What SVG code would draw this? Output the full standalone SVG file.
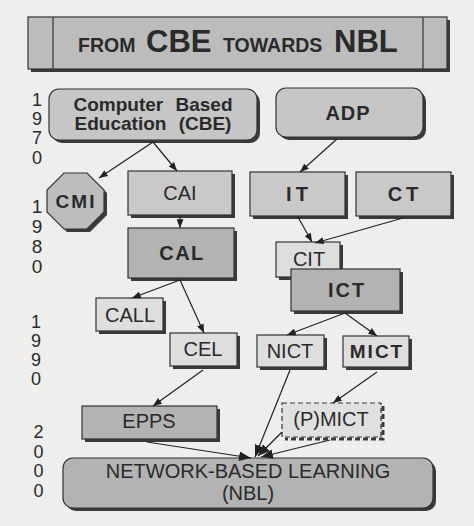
<svg xmlns="http://www.w3.org/2000/svg" width="474" height="526" viewBox="0 0 474 526">
<defs>
<marker id="ah" viewBox="0 0 10 8" refX="10" refY="4" markerWidth="9" markerHeight="7" markerUnits="userSpaceOnUse" orient="auto">
<path d="M0,0 L10,4 L0,8 z" fill="#222"/>
</marker>
<marker id="ahb" viewBox="0 0 10 8" refX="10" refY="4" markerWidth="12" markerHeight="10" markerUnits="userSpaceOnUse" orient="auto">
<path d="M0,0 L10,4 L0,8 z" fill="#222"/>
</marker>
</defs>
<style>
text{font-family:"Liberation Sans",Arial,sans-serif;fill:#2a2a2a}
.sh{fill:#3a3a3a}
.bx{stroke:#333;stroke-width:1.2}
.med{fill:#c9c9c9}
.drk{fill:#b3b3b3}
.lgt{fill:#dedede}
.b{font-weight:bold}
.t20{font-size:20px}
.yr{text-anchor:middle}
.c{text-anchor:middle}
.cn line{stroke:#222;stroke-width:1.2;marker-end:url(#ah)}
.cn line.nb{marker-end:url(#ahb)}
</style>
<rect width="474" height="526" fill="#eeeeec"/>

<g id="title">
<rect class="sh" x="31" y="20" width="419" height="52"/>
<rect class="bx" x="28" y="17" width="419" height="52" fill="#bcbcbc"/>
<line x1="53" y1="17" x2="53" y2="69" stroke="#333" stroke-width="1.2"/>
<line x1="423" y1="17" x2="423" y2="69" stroke="#333" stroke-width="1.2"/>
<text class="b" y="52"><tspan x="78" font-size="19.5">FROM</tspan><tspan x="146" font-size="31">CBE</tspan><tspan x="223" font-size="19.5">TOWARDS</tspan><tspan x="334" font-size="31">NBL</tspan></text>
</g>

<g id="years">
<g font-size="18"><text class="yr" x="37" y="106">1</text><text class="yr" x="37" y="125">9</text><text class="yr" x="37" y="144">7</text><text class="yr" x="37" y="164">0</text></g>
<g font-size="19"><text class="yr" x="37" y="213">1</text><text class="yr" x="37" y="233">9</text><text class="yr" x="37" y="253">8</text><text class="yr" x="37" y="273">0</text></g>
<g font-size="18"><text class="yr" x="36" y="328">1</text><text class="yr" x="36" y="347">9</text><text class="yr" x="36" y="366">9</text><text class="yr" x="36" y="385">0</text></g>
<g font-size="18"><text class="yr" x="38.5" y="438">2</text><text class="yr" x="38.5" y="458">0</text><text class="yr" x="38.5" y="477">0</text><text class="yr" x="38.5" y="497">0</text></g>
</g>

<g id="cbe">
<rect class="sh" x="52" y="92" width="208" height="51" rx="10"/>
<rect class="bx" x="49" y="89" width="208" height="51" rx="10" fill="#c6c6c6"/>
<text class="b c" x="153" y="111" font-size="19" word-spacing="7">Computer Based</text>
<text class="b c" x="153" y="130" font-size="19" word-spacing="7">Education (CBE)</text>
</g>

<g id="adp">
<rect class="sh" x="279" y="91" width="147" height="49" rx="10"/>
<rect class="bx" x="276" y="88" width="147" height="49" rx="10" fill="#c6c6c6"/>
<text class="b c t20" x="348" y="120" letter-spacing="1">ADP</text>
</g>

<g id="cmi">
<polygon class="sh" points="67,176 90,176 107,193 107,215 90,232 67,232 50,215 50,193"/>
<polygon class="bx" points="64,173 87,173 104,190 104,212 87,229 64,229 47,212 47,190" fill="#bdbdbd"/>
<text class="b c" x="76" y="208" font-size="19" letter-spacing="2">CMI</text>
</g>

<g id="cai">
<rect class="sh" x="131" y="174" width="104" height="44"/>
<rect class="bx med" x="128" y="171" width="104" height="44"/>
<text class="c t20" x="180" y="200">CAI</text>
</g>

<g id="it">
<rect class="sh" x="253" y="175" width="95" height="44"/>
<rect class="bx med" x="250" y="172" width="95" height="44"/>
<text class="b c t20" x="299" y="201" letter-spacing="4">IT</text>
</g>

<g id="ct">
<rect class="sh" x="359" y="175" width="95" height="44"/>
<rect class="bx med" x="356" y="172" width="95" height="44"/>
<text class="b c t20" x="405" y="201" letter-spacing="4">CT</text>
</g>

<g id="cal">
<rect class="sh" x="131" y="231" width="106" height="50"/>
<rect class="bx drk" x="128" y="228" width="106" height="50"/>
<text class="b c t20" x="182" y="260" letter-spacing="1.5">CAL</text>
</g>

<g id="cit">
<rect class="sh" x="279" y="245" width="64" height="35"/>
<rect class="bx lgt" x="276" y="242" width="64" height="35"/>
<text class="c t20" x="309" y="266">CIT</text>
</g>

<g id="ict">
<rect class="sh" x="294" y="272" width="109" height="42"/>
<rect class="bx drk" x="291" y="269" width="109" height="42"/>
<text class="b c t20" x="347" y="297" letter-spacing="2">ICT</text>
</g>

<g id="call">
<rect class="sh" x="99" y="301" width="67" height="33"/>
<rect class="bx lgt" x="96" y="298" width="67" height="33"/>
<text class="c t20" x="130" y="322">CALL</text>
</g>

<g id="cel">
<rect class="sh" x="173" y="336" width="67" height="33"/>
<rect class="bx lgt" x="170" y="333" width="67" height="33"/>
<text class="c t20" x="203" y="356">CEL</text>
</g>

<g id="nict">
<rect class="sh" x="260" y="338" width="67" height="32"/>
<rect class="bx lgt" x="257" y="335" width="67" height="32"/>
<text class="c t20" x="290" y="358">NICT</text>
</g>

<g id="mict">
<rect class="sh" x="346" y="339" width="66" height="31"/>
<rect class="bx lgt" x="343" y="336" width="66" height="31"/>
<text class="b c" x="377" y="358" font-size="19" letter-spacing="2">MICT</text>
</g>

<g id="epps">
<rect class="sh" x="85" y="409" width="135" height="33"/>
<rect class="bx drk" x="82" y="406" width="135" height="33"/>
<text class="c t20" x="149" y="428">EPPS</text>
</g>

<g id="pmict">
<path d="M383,406 V439 H285" fill="none" stroke="#3a3a3a" stroke-width="3" stroke-dasharray="5,3"/>
<rect x="282" y="403" width="99" height="34" fill="#e0e0e0" stroke="#333" stroke-width="1.2" stroke-dasharray="5,3"/>
<text class="c t20" x="331" y="426">(P)MICT</text>
</g>

<g id="nbl">
<rect class="sh" x="66" y="461" width="370" height="50" rx="10"/>
<rect class="bx drk" x="63" y="458" width="370" height="50" rx="10"/>
<text class="c t20" x="248" y="478">NETWORK-BASED LEARNING</text>
<text class="c t20" x="248" y="500">(NBL)</text>
</g>

<g id="connectors" class="cn">
<line x1="153" y1="142" x2="99" y2="178"/>
<line x1="153" y1="142" x2="177" y2="171"/>
<line x1="337" y1="139" x2="300" y2="172"/>
<line x1="180" y1="216" x2="180" y2="228"/>
<line x1="298" y1="217" x2="312" y2="242"/>
<line x1="403" y1="218" x2="315" y2="243"/>
<line x1="180" y1="280" x2="132" y2="298"/>
<line x1="180" y1="280" x2="204" y2="333"/>
<line x1="345" y1="313" x2="287" y2="335"/>
<line x1="345" y1="313" x2="377" y2="336"/>
<line x1="203" y1="370" x2="153" y2="406"/>
<line x1="377" y1="372" x2="333" y2="403"/>
<line class="nb" x1="290" y1="370" x2="255" y2="457"/>
<line class="nb" x1="147" y1="442" x2="251" y2="458"/>
<line class="nb" x1="282" y1="432" x2="258" y2="456"/>
<line class="nb" x1="330" y1="440" x2="261" y2="457"/>
</g>
</svg>
